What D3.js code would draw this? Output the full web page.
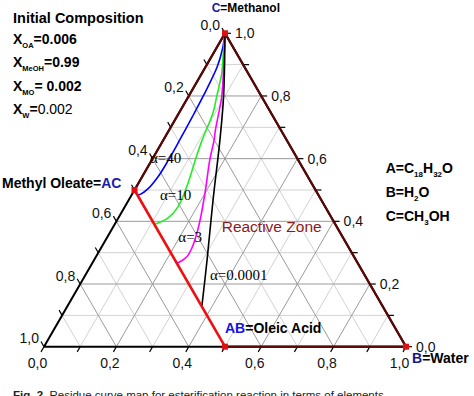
<!DOCTYPE html>
<html>
<head>
<meta charset="utf-8">
<script src="https://d3js.org/d3.v7.min.js"></script>
<style>
body { margin: 0; background: #fff; }
svg { display: block; font-family: "Liberation Sans", Arial, sans-serif; }
</style>
</head>
<body>
<svg width="474" height="396"></svg>
<script>
// compositions as [B fraction, C fraction], A = 1 - B - C
var curveA40 = [[0,1],[0.018,0.95],[0.032,0.893],[0.04,0.8],[0.043,0.734],[0.045,0.663],[0.046,0.596],[0.044,0.542],[0.036,0.505],[0.023,0.486],[0.016,0.484]];
var curveA10 = [[0,1],[0.03,0.93],[0.055,0.872],[0.078,0.798],[0.094,0.745],[0.107,0.66],[0.12,0.596],[0.137,0.521],[0.147,0.447],[0.137,0.41],[0.11,0.39]];
var curveA3 = [[0,1],[0.035,0.925],[0.069,0.851],[0.092,0.798],[0.128,0.691],[0.14,0.66],[0.16,0.596],[0.196,0.5],[0.224,0.42],[0.241,0.363],[0.251,0.315],[0.251,0.287],[0.24,0.271],[0.233,0.266]];
var curveA0001 = [[0,1],[0.097,0.798],[0.156,0.66],[0.233,0.468],[0.312,0.277],[0.372,0.128]];

var curveNames = ["\u03b1=40", "\u03b1=10", "\u03b1=3", "\u03b1=0.0001"];
var curveColors = ["#0000ff", "#22ee22", "#ff00ff", "#000000"];

// AC, C, B, AB
var zonePoints = [[0,0.5],[0,1],[1,0],[0.5,0]];

var gridValues = [0.1,0.2,0.3,0.4,0.5,0.6,0.7,0.8,0.9];
var tickValues = [0,0.1,0.2,0.3,0.4,0.5,0.6,0.7,0.8,0.9,1];
var labelValues = [0,0.2,0.4,0.6,0.8,1];
var tickLabels = ["0,0","0,2","0,4","0,6","0,8","1,0"];

var svg = d3.select("svg");

var xScale = d3.scaleLinear().domain([0,1]).range([44,406]);
var yScale = d3.scaleLinear().domain([0,1]).range([346.7,33.3]);

function px(p) { return xScale(p[0] + p[1] / 2); }
function py(p) { return yScale(p[1]); }

var line = d3.line()
  .x(function(d) { return px(d); })
  .y(function(d) { return py(d); })
  .curve(d3.curveCatmullRom.alpha(0.5));

// grid lines in the three directions
var gridData = [];
gridValues.forEach(function(v) {
  var major = Math.round(v * 10) % 2 == 0;
  gridData.push({p1: [0, v], p2: [1 - v, v], major: major});
  gridData.push({p1: [v, 0], p2: [v, 1 - v], major: major});
  gridData.push({p1: [1 - v, 0], p2: [0, 1 - v], major: major});
});
gridData.sort(function(a, b) { return a.major - b.major; });

svg.append("g")
  .selectAll("line")
  .data(gridData)
  .enter()
  .append("line")
  .attr("x1", function(d) { return px(d.p1); })
  .attr("y1", function(d) { return py(d.p1); })
  .attr("x2", function(d) { return px(d.p2); })
  .attr("y2", function(d) { return py(d.p2); })
  .style("stroke", function(d) { return d.major ? "#9a9a9a" : "#d2d2d2"; })
  .style("stroke-width", 1);

// triangle frame
svg.append("path")
  .attr("d", d3.line().x(px).y(py)([[0,0],[1,0],[0,1],[0,0]]))
  .attr("fill", "none")
  .attr("stroke", "#000")
  .attr("stroke-width", 2);

// ticks
var tickLen = 6;
var tickG = svg.append("g").attr("stroke", "#000").attr("stroke-width", 1.2);
// bottom axis (B)
tickG.selectAll(".tb").data(tickValues).enter().append("line")
  .attr("x1", function(d) { return px([d, 0]); })
  .attr("y1", function(d) { return py([d, 0]); })
  .attr("x2", function(d) { return px([d, 0]) - 0.5 * tickLen; })
  .attr("y2", function(d) { return py([d, 0]) + 0.866 * tickLen; });
// left axis (A)
tickG.selectAll(".tl").data(tickValues).enter().append("line")
  .attr("x1", function(d) { return px([0, 1 - d]); })
  .attr("y1", function(d) { return py([0, 1 - d]); })
  .attr("x2", function(d) { return px([0, 1 - d]) - 0.5 * tickLen; })
  .attr("y2", function(d) { return py([0, 1 - d]) - 0.866 * tickLen; });
// right axis (C)
tickG.selectAll(".tr").data(tickValues).enter().append("line")
  .attr("x1", function(d) { return px([1 - d, d]); })
  .attr("y1", function(d) { return py([1 - d, d]); })
  .attr("x2", function(d) { return px([1 - d, d]) + tickLen; })
  .attr("y2", function(d) { return py([1 - d, d]); });

var labG = svg.append("g").attr("font-size", "14px").attr("fill", "#111");
labG.selectAll(".lb").data(labelValues).enter().append("text")
  .attr("x", function(d) { return px([d, 0]) - 6.5; })
  .attr("y", function(d) { return py([d, 0]) + 21.5; })
  .attr("text-anchor", "middle")
  .text(function(d, i) { return tickLabels[i]; });
labG.selectAll(".ll").data(labelValues).enter().append("text")
  .attr("x", function(d) { return px([0, 1 - d]) - 5; })
  .attr("y", function(d) { return py([0, 1 - d]) - 3.5; })
  .attr("text-anchor", "end")
  .text(function(d, i) { return tickLabels[i]; });
labG.selectAll(".lr").data(labelValues).enter().append("text")
  .attr("x", function(d) { return px([1 - d, d]) + 10; })
  .attr("y", function(d) { return py([1 - d, d]) + 5; })
  .attr("text-anchor", "start")
  .text(function(d, i) { return tickLabels[i]; });

// reactive zone border AC - C - B - AB
svg.append("path")
  .attr("d", d3.line().x(px).y(py)(zonePoints))
  .attr("fill", "none")
  .attr("stroke", "#5c0606")
  .attr("stroke-width", 2.2);

// residue curves
var curves = [curveA40, curveA10, curveA3, curveA0001];
svg.append("g")
  .selectAll("path")
  .data(curves)
  .enter()
  .append("path")
  .attr("d", function(d) { return line(d); })
  .attr("fill", "none")
  .attr("stroke", function(d, i) { return curveColors[i]; })
  .attr("stroke-width", 1.6);

// AC - AB line
svg.append("path")
  .attr("d", d3.line().x(px).y(py)([zonePoints[0], zonePoints[3]]))
  .attr("stroke", "#ee1010")
  .attr("stroke-width", 2.6);

svg.append("g")
  .selectAll("rect")
  .data(zonePoints)
  .enter()
  .append("rect")
  .attr("x", function(d) { return px(d) - 3; })
  .attr("y", function(d) { return py(d) - 3; })
  .attr("width", 6)
  .attr("height", 6)
  .attr("fill", "#e01010");

// alpha labels
var alphaPos = [[150,163.3],[160,200],[178.3,241.7],[210,280]];
svg.append("g")
  .selectAll("text")
  .data(curveNames)
  .enter()
  .append("text")
  .attr("x", function(d, i) { return alphaPos[i][0]; })
  .attr("y", function(d, i) { return alphaPos[i][1]; })
  .attr("font-family", "'Liberation Serif', 'Times New Roman', serif")
  .attr("font-size", "15px")
  .attr("fill", "#000")
  .text(function(d) { return d; });

svg.append("text")
  .attr("x", 221.7).attr("y", 232)
  .attr("font-size", "15.5px")
  .attr("fill", "#8b1a1a")
  .text("Reactive Zone");

// vertex names
function bold(x, y, size) {
  return svg.append("text").attr("x", x).attr("y", y)
    .attr("font-size", size).attr("font-weight", "bold").attr("fill", "#000");
}
var t = bold(211.7, 11.8, "12px");
t.append("tspan").attr("fill", "#1a1aa0").text("C");
t.append("tspan").text("=Methanol");

t = bold(2, 188.3, "14px");
t.append("tspan").text("Methyl Oleate=");
t.append("tspan").attr("fill", "#1a1ab0").text("AC");

t = bold(225, 333.3, "14px");
t.append("tspan").attr("fill", "#1414e6").text("AB");
t.append("tspan").text("=Oleic Acid");

t = bold(412, 362.7, "14px");
t.append("tspan").attr("fill", "#16168c").text("B");
t.append("tspan").text("=Water");

// initial composition block
bold(13, 23.3, "14.5px").text("Initial Composition");
var compSubs = ["OA", "MeOH", "MO", "W"];
var compVals = ["=0.006", "=0.99", "= 0.002", "=0.002"];
var compY = [43.5, 67, 90.7, 113.5];
compSubs.forEach(function(s, i) {
  var tt = bold(13, compY[i], "14px");
  tt.append("tspan").text("X");
  tt.append("tspan").attr("font-size", "7.5px").attr("dy", 4).text(s);
  if (i == 3) {
    tt.append("tspan").attr("dy", -4).text("=");
    tt.append("tspan").attr("font-weight", "normal").text("0.002");
  } else {
    tt.append("tspan").attr("dy", -4).text(compVals[i]);
  }
});

// formula block
var formulas = [["A=C","18","H","32","O"], ["B=H","2","O"], ["C=CH","3","OH"]];
var formY = [172.5, 197, 220.5];
formulas.forEach(function(f, i) {
  var tt = bold(385.7, formY[i], "14px");
  f.forEach(function(s, j) {
    var sub = j % 2 == 1;
    tt.append("tspan")
      .attr("font-size", sub ? "8px" : "14px")
      .attr("dy", j == 0 ? 0 : (sub ? 4 : -4))
      .text(s);
  });
});

// caption (cut by the bottom edge)
var cap = svg.append("text").attr("x", 13).attr("y", 398.5)
  .attr("font-size", "11.5px").attr("fill", "#222");
cap.append("tspan").attr("font-weight", "bold").text("Fig. 2.");
cap.append("tspan").text("  Residue curve map for esterification reaction in terms of elements.");
</script>
</body>
</html>
